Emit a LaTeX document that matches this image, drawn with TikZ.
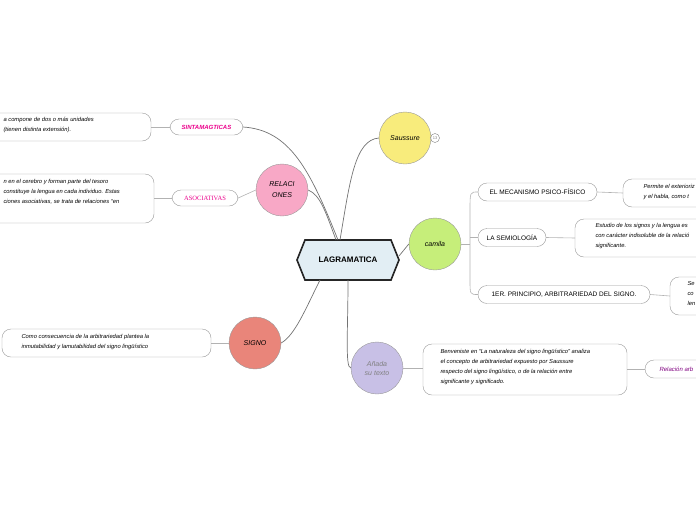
\documentclass[tikz,border=0pt]{standalone}
\usepackage{fontspec}
\setmainfont{Liberation Sans}
\newfontfamily\serifz{Liberation Serif}
\definecolor{cyel}{HTML}{F8EC7C}
\definecolor{clime}{HTML}{C6EE7A}
\definecolor{cpink}{HTML}{F8A8C6}
\definecolor{csal}{HTML}{E9857A}
\definecolor{cvio}{HTML}{C8C0E6}
\definecolor{chex}{HTML}{E2EEF4}
\begin{document}
\begin{tikzpicture}[x=1pt,y=-1pt,
 circ/.style={circle,draw=gray!80,minimum size=52pt,inner sep=0pt,align=center,font=\fontsize{7}{9}\selectfont\itshape},
 rbox/.style={draw=gray!80,rounded corners=9pt,fill=white,minimum height=#1,inner sep=0pt},
 txt/.style={font=\fontsize{5.8}{10}\selectfont\itshape,align=left,anchor=north west},
 lbl/.style={font=\fontsize{6.5}{8}\selectfont},
 con/.style={draw=gray!90!black,line width=0.7pt},
 thin/.style={draw=gray!60,line width=0.6pt}]
\clip (0,0) rectangle (696,520);
\useasboundingbox (0,0) rectangle (696,520);
% central
\draw[line width=1.6pt,draw=gray!30!black,fill=chex] (305,240)--(391,240)--(399,260)--(391,280)--(305,280)--(297,260)--cycle;
\node[font=\fontsize{8}{10}\selectfont\bfseries] (c) at (348,260) {LAGRAMATICA};
% circles
\node[circ,fill=cyel] (sau) at (405,138) {Saussure};
\node[circle,draw=gray,inner sep=0pt,minimum size=9pt,font=\fontsize{4}{5}\selectfont,text=gray] (badge) at (435,138) {13};
\node[circ,fill=clime] (cam) at (435,244) {camila};
\node[circ,fill=cpink] (rel) at (282,190) {RELACI\\[2pt]ONES};
\node[circ,fill=csal] (sig) at (255,343) {SIGNO};
\node[circ,fill=cvio,text=gray] (ana) at (377,368) {Añada\\su texto};
% main connectors
\draw[con] (340,240) .. controls (350,180) and (355,140) .. (sau.west);
\draw[thin] (sau.east)--(badge.west);
\draw[con] (399,256)--(cam.west);
\draw[con] (336,240) .. controls (325,210) and (320,195) .. (rel.east);
\draw[con] (338,240) .. controls (310,170) and (290,130) .. (243,127);
\draw[con] (320,280) .. controls (305,310) and (295,335) .. (sig.east);
\draw[con] (348,280) .. controls (348,330) and (345,368) .. (ana.west);
% left side
\node[rbox=16pt,minimum width=73pt,text=magenta,font=\fontsize{6}{8}\selectfont\bfseries\itshape] (sin) at (206.5,127) {SINTAMAGTICAS};
\draw[rbox=28pt] (-10,113) rectangle (151,141);
\node[txt] (t1) at (0,114) {a compone de dos o más unidades\\(tienen distinta extensión).};
\draw[thin] (151,127)--(sin.west);
\node[rbox=16pt,minimum width=66pt,text=magenta,font=\fontsize{6.5}{8}\serifz] (aso) at (205,198) {ASOCIATIVAS};
\draw[rbox=49pt] (-10,174) rectangle (154,223);
\node[txt] (t2) at (0,176) {n en el cerebro y forman parte del tesoro\\constituye la lengua en cada individuo. Estas\\ciones asociativas, se trata de relaciones ``en};
\draw[thin] (154,198)--(aso.west);
\draw[thin] (aso.east)--(rel.west);
\draw[rbox=28pt] (2,329) rectangle (211,357);
\node[txt] (t3) at (18,331) {Como consecuencia de la arbitrariedad plantea la\\inmutabilidad y lamutabilidad del signo lingüístico};
\draw[thin] (211,343)--(sig.west);
% camila children
\node[rbox=18pt,minimum width=119pt,lbl] (m1) at (537.5,192) {EL MECANISMO PSICO-FÍSICO};
\node[rbox=18pt,minimum width=68pt,lbl] (m2) at (512,237.5) {LA SEMIOLOGÍA};
\node[rbox=18pt,minimum width=172pt,lbl] (m3) at (564,294.5) {1ER. PRINCIPIO, ARBITRARIEDAD DEL SIGNO.};
\draw[thin] (cam.east)--(470,244);
\draw[thin] (m1.west) .. controls (470,192) .. (470,210) -- (470,280) .. controls (470,294.5) .. (m3.west);
\draw[thin] (470,237.5)--(m2.west);
\draw[rbox=28pt] (623,179) rectangle (720,207);
\node[txt] at (640,181) {Permite el exterioriz\\y el habla, como t};
\draw[thin] (m1.east)--(623,193);
\draw[rbox=38pt] (575,219) rectangle (720,257);
\node[txt] at (592,220) {Estudio de los signos y la lengua es\\con carácter indisoluble de la relació\\significante.};
\draw[thin] (m2.east)--(575,238);
\draw[rbox=38pt] (670,277) rectangle (720,315);
\node[txt] at (684,278) {Se\\co\\len};
\draw[thin] (m3.east)--(670,296);
% Benveniste
\draw[rbox=51pt] (423,344) rectangle (627,395);
\node[txt] (t4) at (437,346) {Benveniste en ``La naturaleza del signo lingüístico'' analiza\\el concepto de arbitrariedad expuesto por Saussure\\respecto del signo lingüístico, o de la relación entre\\significante y significado.};
\draw[thin] (ana.east)--(423,368);
\draw[rbox=18pt] (645,360) rectangle (720,378);
\node[anchor=west,text=violet,font=\fontsize{6}{8}\selectfont\itshape] (rel2) at (656,369) {Relación arb};
\draw[thin] (627,369)--(645,369);
\end{tikzpicture}
\end{document}
